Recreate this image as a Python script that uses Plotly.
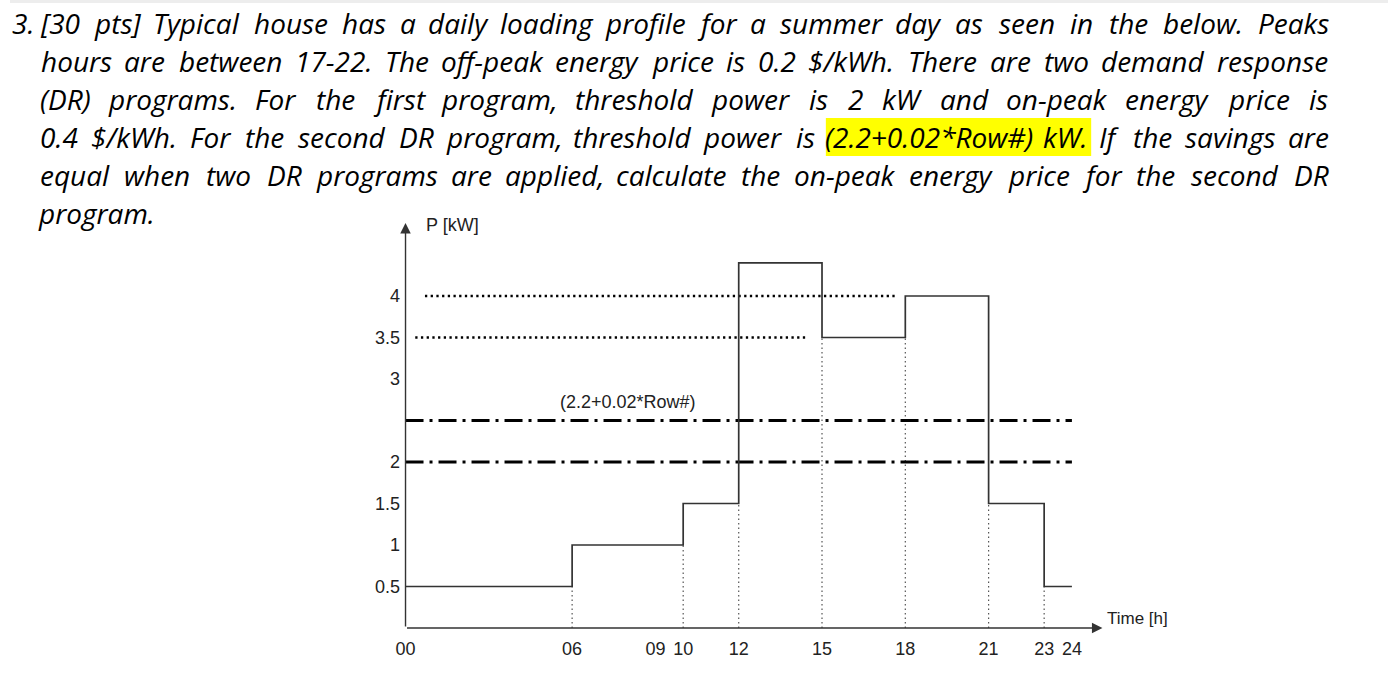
import plotly.graph_objects as go

# ------------------------------------------------------------------ data
hours = [0, 6, 10, 12, 15, 18, 21, 23, 24]
load_kw = [0.5, 1.0, 1.5, 4.4, 3.5, 4.0, 1.5, 0.5, 0.5]

threshold_kw = [2.0, 2.5]
threshold_start_h = [0, 0]
threshold_end_h = [24, 24]

ref_kw = [4.0, 3.5]
ref_start_h = [0.7, 0.35]
ref_end_h = [17.65, 14.5]

x_tick_vals = [0, 6, 9, 10, 12, 15, 18, 21, 23, 24]
x_tick_text = ["00", "06", "09", "10", "12", "15", "18", "21", "23", "24"]
y_tick_vals = [0.5, 1, 1.5, 2, 3, 3.5, 4]
y_tick_text = ["0.5", "1", "1.5", "2", "3", "3.5", "4"]

threshold_label = "(2.2+0.02*Row#)"
threshold_label_pos = (8.0, 2.72)
y_axis_title = "P [kW]"
x_axis_title = "Time [h]"

question_number = "3."
question_lines = [
    "[30 pts] Typical house has a daily loading profile for a summer day as seen in the below. Peaks",
    "hours are between 17-22. The off-peak energy price is 0.2 $/kWh. There are two demand response",
    "(DR) programs. For the first program, threshold power is 2 kW and on-peak energy price is",
    "0.4 $/kWh. For the second DR program, threshold power is (2.2+0.02*Row#) kW. If the savings are",
    "equal when two DR programs are applied, calculate the on-peak energy price for the second DR",
    "program.",
]
highlight_words = ("(2.2+0.02*Row#)", "kW.")

# ------------------------------------------------------------------ layout constants
W, H = 1388, 674
# horizontal correction observed between layout pixels and the captured picture
SHIFT, SCALE = 8.0, 0.994


def lx(target_px):
    return (target_px - SHIFT) / SCALE


X0_PX = lx(404.0)
PX_PER_H = 27.8 / SCALE
Y0_PX, PX_PER_KW = 628.0, 83.0
X_MAX_H, Y_MAX_KW = 25.2, 4.9

xdom = [X0_PX / W, (X0_PX + X_MAX_H * PX_PER_H) / W]
ydom = [1 - Y0_PX / H, 1 - (Y0_PX - Y_MAX_KW * PX_PER_KW) / H]

CHART_FONT = "Liberation Sans, Arial, sans-serif"
TEXT_FONT = "Open Sans, Noto Sans, sans-serif"
TEXT_SIZE = 28

# approximate advance widths (em) for the text font, used to justify lines
EM = {
    " ": 0.26, "a": 0.556, "b": 0.613, "c": 0.476, "d": 0.613, "e": 0.561, "f": 0.339,
    "g": 0.548, "h": 0.614, "i": 0.253, "j": 0.253, "k": 0.525, "l": 0.253, "m": 0.93,
    "n": 0.614, "o": 0.604, "p": 0.613, "q": 0.613, "r": 0.408, "s": 0.477, "t": 0.353,
    "u": 0.614, "v": 0.5, "w": 0.778, "x": 0.524, "y": 0.502, "z": 0.477,
    "D": 0.722, "F": 0.534, "I": 0.295, "P": 0.603, "R": 0.618, "T": 0.54, "W": 0.916,
    ".": 0.266, ",": 0.245, "-": 0.322, "(": 0.286, ")": 0.286, "[": 0.329, "]": 0.329,
    "$": 0.572, "/": 0.367, "*": 0.551, "#": 0.646, "+": 0.572,
}
WIDTH_FACTOR = 0.93


def word_w(word):
    return sum(EM.get(ch, 0.572) for ch in word) * TEXT_SIZE * WIDTH_FACTOR


def px(xp):
    return xp / W


def py(yp):
    return 1 - yp / H


fig = go.Figure()

# vertical dotted drop lines at each step
for i in range(1, len(hours) - 1):
    top = min(load_kw[i - 1], load_kw[i])
    fig.add_trace(go.Scatter(
        x=[hours[i], hours[i]], y=[0, top], mode="lines",
        line=dict(color="#555555", width=1.2, dash="1.5px,3px"),
        hoverinfo="skip", showlegend=False))

# dotted reference levels
for lvl, a, b in zip(ref_kw, ref_start_h, ref_end_h):
    fig.add_trace(go.Scatter(
        x=[a, b], y=[lvl, lvl], mode="lines",
        line=dict(color="black", width=2.3, dash="2.3px,3.4px"),
        hoverinfo="skip", showlegend=False))

# dash-dot thresholds
for lvl, a, b in zip(threshold_kw, threshold_start_h, threshold_end_h):
    fig.add_trace(go.Scatter(
        x=[a, b], y=[lvl, lvl], mode="lines",
        line=dict(color="black", width=2.8, dash="18px,6px,3px,6px"),
        hoverinfo="skip", showlegend=False))

# load profile
fig.add_trace(go.Scatter(
    x=hours, y=load_kw, mode="lines", line_shape="hv",
    line=dict(color="#333333", width=1.7),
    hoverinfo="skip", showlegend=False))

annotations = []

# axes drawn as arrows
annotations.append(dict(x=0, y=Y_MAX_KW - 0.02, ax=0, ay=0, xref="x", yref="y",
                        axref="x", ayref="y", text="", showarrow=True,
                        arrowhead=2, arrowsize=1.5, arrowwidth=1.4, arrowcolor="#333333"))
annotations.append(dict(x=25.1, y=0, ax=0, ay=0, xref="x", yref="y",
                        axref="x", ayref="y", text="", showarrow=True,
                        arrowhead=2, arrowsize=1.5, arrowwidth=1.4, arrowcolor="#333333"))

annotations.append(dict(x=0.68, y=Y_MAX_KW - 0.05, xref="x", yref="y", text=y_axis_title,
                        showarrow=False, xanchor="left", yanchor="middle",
                        font=dict(family=CHART_FONT, size=18, color="#222222")))
annotations.append(dict(x=25.2, y=0.12, xref="x", yref="y", text=x_axis_title,
                        showarrow=False, xanchor="left", yanchor="middle",
                        font=dict(family=CHART_FONT, size=17, color="#222222")))
annotations.append(dict(x=threshold_label_pos[0], y=threshold_label_pos[1], xref="x", yref="y",
                        text=threshold_label, showarrow=False, xanchor="center", yanchor="middle",
                        font=dict(family=CHART_FONT, size=18, color="#222222")))

# question text, justified word by word
LEFT, RIGHT = lx(39.0), lx(1328.0)
LINE_CY = [23, 61, 99, 137, 175, 213]
shapes = []

tfont = dict(family=TEXT_FONT, size=TEXT_SIZE, color="black", style="italic", weight=500)
annotations.append(dict(x=0, y=py(LINE_CY[0]), xref="paper", yref="paper",
                        text=question_number, showarrow=False, xanchor="left",
                        yanchor="middle", font=tfont))

for li, line in enumerate(question_lines):
    words = line.split(" ")
    widths = [word_w(w) for w in words]
    justify = li < len(question_lines) - 1 and len(words) > 1
    if justify:
        gap = (RIGHT - LEFT - sum(widths)) / (len(words) - 1)
        gap = max(gap, word_w(" "))
    else:
        gap = word_w(" ")
    xcur = LEFT
    starts = []
    for w, wd in zip(words, widths):
        starts.append(xcur)
        annotations.append(dict(x=px(xcur + wd / 2), y=py(LINE_CY[li]), xref="paper",
                                yref="paper", text=w, showarrow=False, xanchor="center",
                                yanchor="middle", font=tfont))
        xcur += wd + gap
    if highlight_words[0] in words:
        i0 = words.index(highlight_words[0])
        i1 = words.index(highlight_words[1])
        shapes.append(dict(type="rect", xref="paper", yref="paper", layer="below",
                           x0=px(starts[i0] - 3), x1=px(starts[i1] + widths[i1] + 4),
                           y0=py(156), y1=py(118), fillcolor="#ffff00", line=dict(width=0)))

shapes.append(dict(type="rect", xref="paper", yref="paper", layer="below",
                   x0=0, x1=1, y0=py(3), y1=1, fillcolor="#ededed", line=dict(width=0)))

fig.update_layout(
    width=W, height=H,
    margin=dict(l=0, r=0, t=0, b=0),
    paper_bgcolor="white", plot_bgcolor="white",
    showlegend=False,
    xaxis=dict(domain=xdom, range=[0, X_MAX_H], showgrid=False, zeroline=False,
               showline=False, tickmode="array", tickvals=x_tick_vals, ticktext=x_tick_text,
               ticks="outside", ticklen=4, tickcolor="rgba(0,0,0,0)",
               tickfont=dict(family=CHART_FONT, size=18, color="#222222")),
    yaxis=dict(domain=ydom, range=[0, Y_MAX_KW], showgrid=False, zeroline=False,
               showline=False, tickmode="array", tickvals=y_tick_vals, ticktext=y_tick_text,
               ticks="outside", ticklen=1, tickcolor="rgba(0,0,0,0)",
               tickfont=dict(family=CHART_FONT, size=18, color="#222222")),
    annotations=annotations,
    shapes=shapes,
)

fig.write_html("out.html")
